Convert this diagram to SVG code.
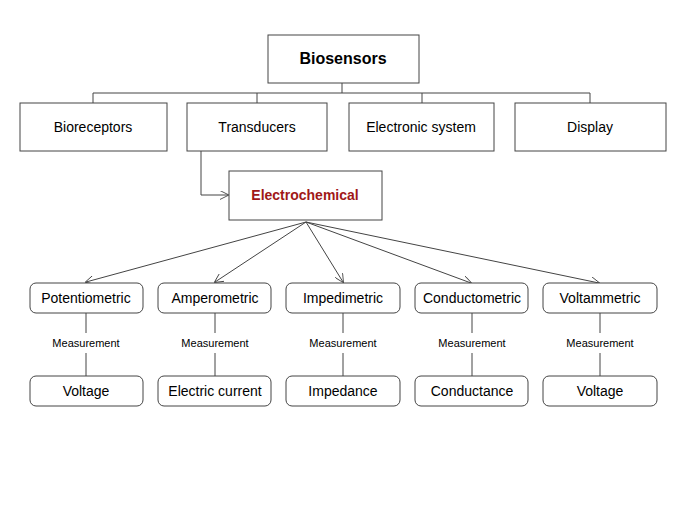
<svg xmlns="http://www.w3.org/2000/svg" width="685" height="508" viewBox="0 0 685 508">
<style>
text{font-family:"Liberation Sans",Arial,sans-serif;fill:#000;text-anchor:middle}
.b{fill:#fff;stroke:#444;stroke-width:1}
.t{font-size:14px}
.s{font-size:11px}
.c{fill:none;stroke:#444;stroke-width:1}
</style>
<defs><marker id="a" viewBox="0 0 10 10" refX="9" refY="5" markerWidth="9" markerHeight="9" orient="auto" markerUnits="userSpaceOnUse"><path d="M0,0L10,5L0,10" fill="none" stroke="#444"/></marker></defs>
<rect width="685" height="508" fill="#fff"/>
<g id="connectors">
<path class="c" d="M342,83V93M93,103V93H590V103M257,93V103M422,93V103"/>
<path class="c" d="M201,151V195H228" marker-end="url(#a)"/>
<path class="c" d="M306,222L86,282" marker-end="url(#a)"/>
<path class="c" d="M306,222L215,282" marker-end="url(#a)"/>
<path class="c" d="M306,222L343,282" marker-end="url(#a)"/>
<path class="c" d="M306,222L471,283" marker-end="url(#a)"/>
<path class="c" d="M306,222L599,283" marker-end="url(#a)"/>
<path class="c" d="M86,313V333M86,353V376M215,313V333M215,353V376M343,313V333M343,353V376M472,313V333M472,353V376M600,313V333M600,353V376"/>
</g>
<g id="biosensors"><rect class="b" x="268" y="35" width="151" height="48"/><text x="343" y="64" font-size="16" font-weight="bold">Biosensors</text></g>
<g id="bioreceptors"><rect class="b" x="20" y="103" width="147" height="48"/><text class="t" x="93" y="132">Bioreceptors</text></g>
<g id="transducers"><rect class="b" x="187" y="103" width="140" height="48"/><text class="t" x="257" y="132">Transducers</text></g>
<g id="electronic"><rect class="b" x="349" y="103" width="145" height="48"/><text class="t" x="421" y="132">Electronic system</text></g>
<g id="display"><rect class="b" x="515" y="103" width="151" height="48"/><text class="t" x="590" y="132">Display</text></g>
<g id="electrochemical"><rect class="b" x="229" y="171" width="153" height="49"/><text x="305" y="200" font-size="14" font-weight="bold" style="fill:#a01818">Electrochemical</text></g>
<g id="potentiometric"><rect class="b" x="30" y="283" width="113" height="30" rx="6"/><text class="t" x="86" y="303">Potentiometric</text></g>
<g id="amperometric"><rect class="b" x="158" y="283" width="113" height="30" rx="6"/><text class="t" x="215" y="303">Amperometric</text></g>
<g id="impedimetric"><rect class="b" x="286" y="283" width="114" height="30" rx="6"/><text class="t" x="343" y="303">Impedimetric</text></g>
<g id="conductometric"><rect class="b" x="415" y="283" width="113" height="30" rx="6"/><text class="t" x="472" y="303">Conductometric</text></g>
<g id="voltammetric"><rect class="b" x="543" y="283" width="114" height="30" rx="6"/><text class="t" x="600" y="303">Voltammetric</text></g>
<g id="labels">
<text class="s" x="86" y="347">Measurement</text><text class="s" x="215" y="347">Measurement</text><text class="s" x="343" y="347">Measurement</text><text class="s" x="472" y="347">Measurement</text><text class="s" x="600" y="347">Measurement</text>
</g>
<g id="voltage1"><rect class="b" x="30" y="376" width="113" height="30" rx="6"/><text class="t" x="86" y="396">Voltage</text></g>
<g id="current"><rect class="b" x="158" y="376" width="113" height="30" rx="6"/><text class="t" x="215" y="396">Electric current</text></g>
<g id="impedance"><rect class="b" x="286" y="376" width="114" height="30" rx="6"/><text class="t" x="343" y="396">Impedance</text></g>
<g id="conductance"><rect class="b" x="415" y="376" width="113" height="30" rx="6"/><text class="t" x="472" y="396">Conductance</text></g>
<g id="voltage2"><rect class="b" x="543" y="376" width="114" height="30" rx="6"/><text class="t" x="600" y="396">Voltage</text></g>
</svg>
